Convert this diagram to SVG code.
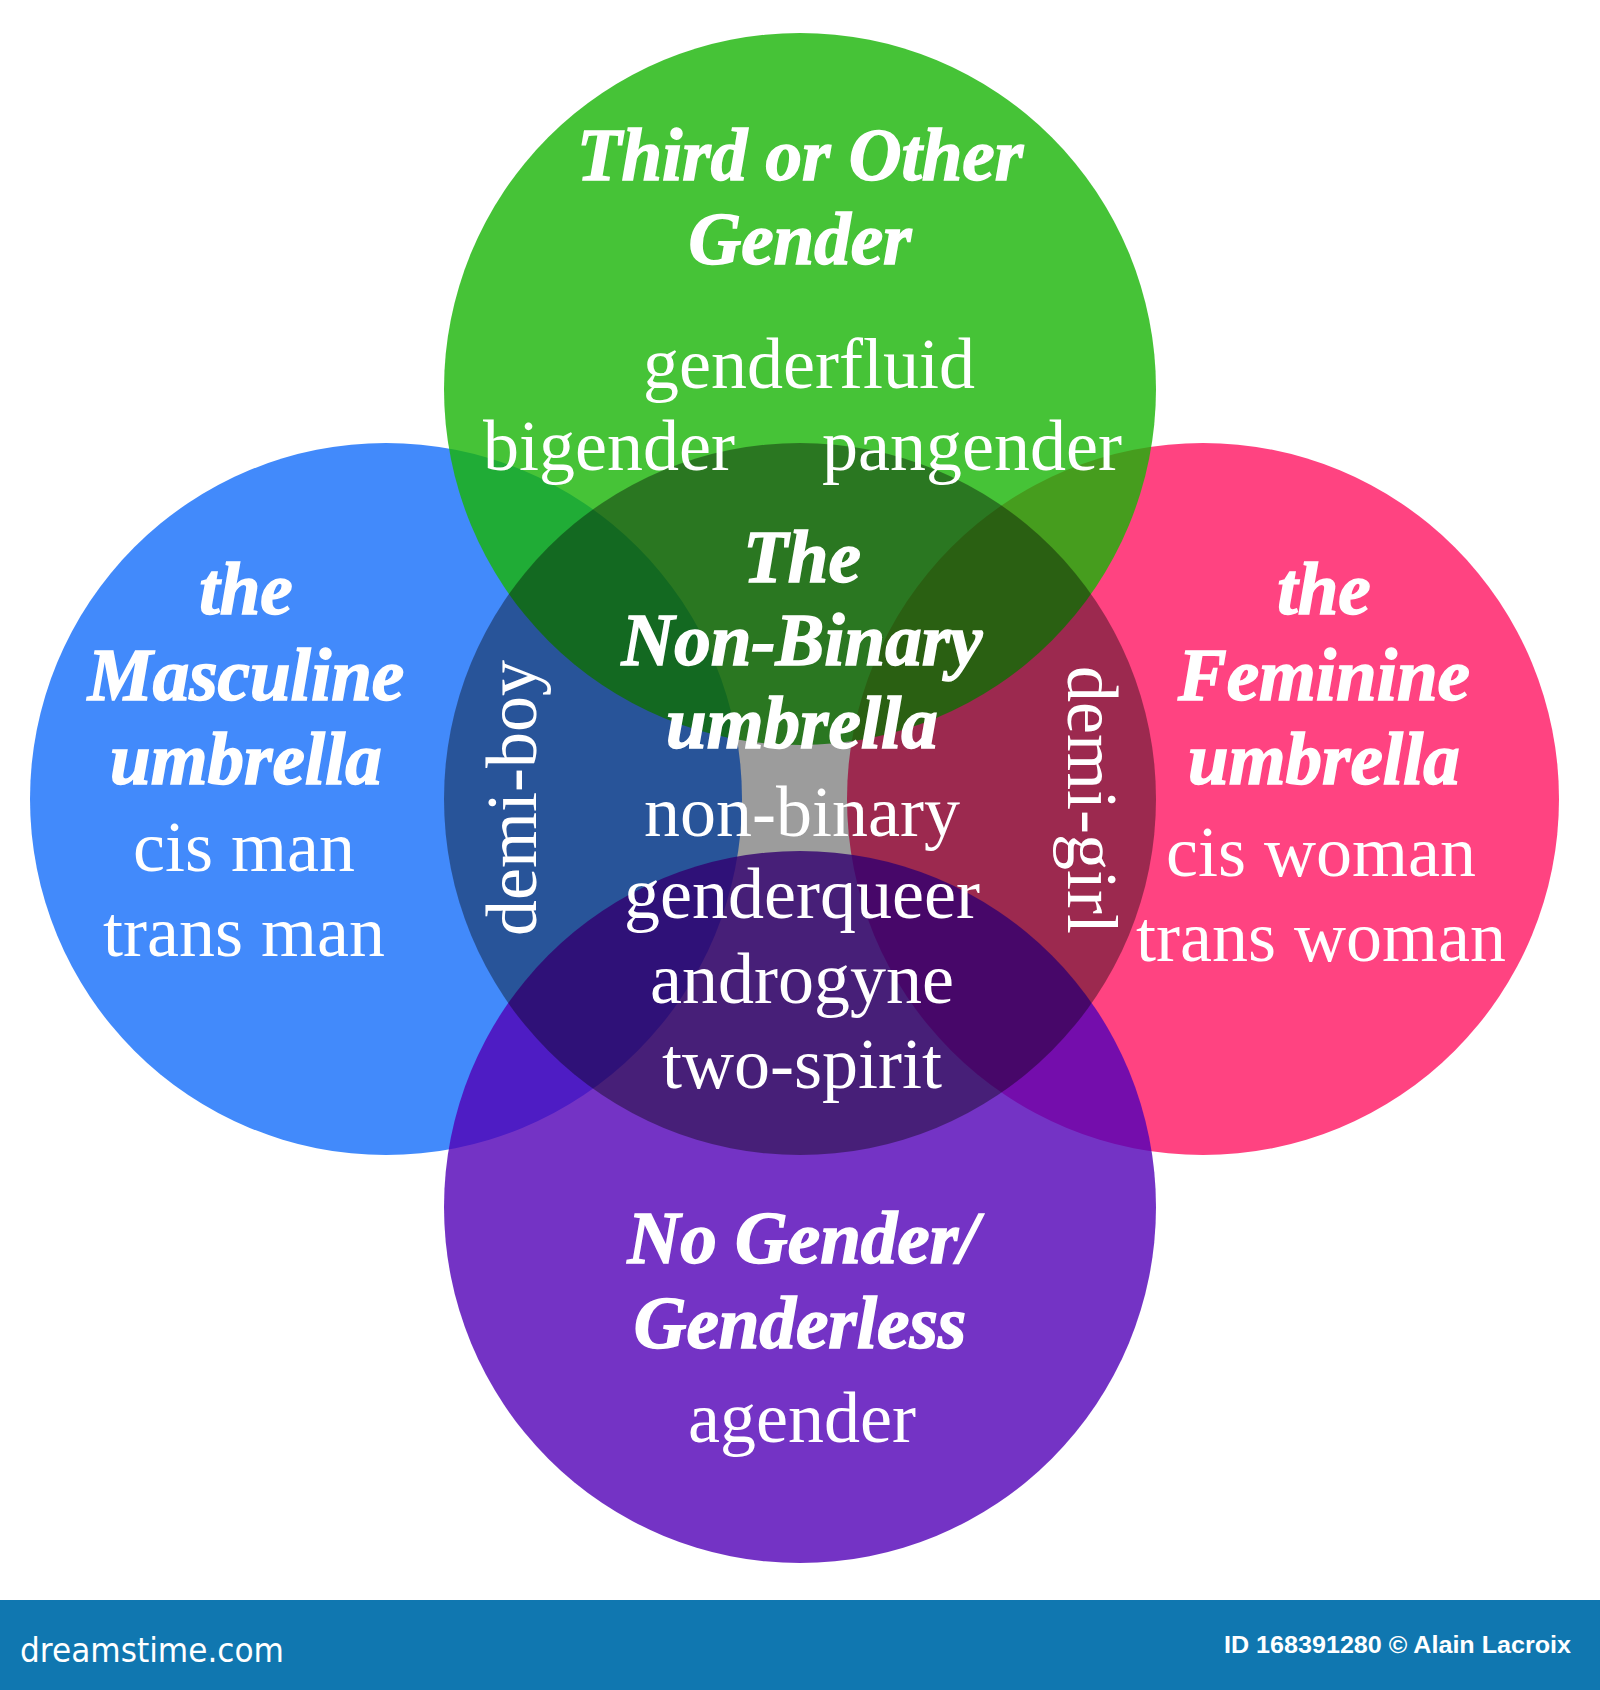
<svg xmlns="http://www.w3.org/2000/svg" width="1600" height="1690" viewBox="0 0 1600 1690">
<style>
.h{font-family:"Liberation Serif",serif;font-weight:bold;font-style:italic;font-size:73px;fill:#ffffff;stroke:#ffffff;stroke-width:1.5px;text-anchor:middle}
.t{font-family:"Liberation Serif",serif;font-size:72px;fill:#ffffff;text-anchor:middle}
</style>
<rect x="0" y="0" width="1600" height="1690" fill="#ffffff"/>
<g id="masculine"><circle cx="386" cy="799" r="356" fill="#428afb"/></g>
<g id="feminine"><circle cx="1203" cy="799" r="356" fill="#ff4381"/></g>
<g id="third-gender"><circle cx="800" cy="389" r="356" fill="#18b405" fill-opacity="0.8"/></g>
<g id="no-gender"><circle cx="800" cy="1207" r="356" fill="#5100b7" fill-opacity="0.8"/></g>
<g id="non-binary"><circle cx="800" cy="799" r="356" fill="#000000" fill-opacity="0.39"/></g>

<g id="third-gender-labels">
<text class="h" x="800" y="180">Third or Other</text>
<text class="h" x="800" y="264">Gender</text>
<text class="t" x="809" y="388">genderfluid</text>
<text class="t" x="609" y="470">bigender</text>
<text class="t" x="972" y="470">pangender</text>
</g>
<g id="non-binary-labels">
<text class="h" x="802" y="582">The</text>
<text class="h" x="802" y="665">Non-Binary</text>
<text class="h" x="802" y="748">umbrella</text>
<text class="t" x="802" y="836">non-binary</text>
<text class="t" x="802" y="918">genderqueer</text>
<text class="t" x="802" y="1003">androgyne</text>
<text class="t" x="802" y="1088">two-spirit</text>
<text class="t" transform="translate(536,798) rotate(-90)" x="0" y="0">demi-boy</text>
<text class="t" transform="translate(1068,800) rotate(90)" x="0" y="0">demi-girl</text>
</g>
<g id="masculine-labels">
<text class="h" x="246" y="614">the</text>
<text class="h" x="246" y="700">Masculine</text>
<text class="h" x="246" y="784">umbrella</text>
<text class="t" x="244" y="871">cis man</text>
<text class="t" x="244" y="956">trans man</text>
</g>
<g id="feminine-labels">
<text class="h" x="1324" y="614">the</text>
<text class="h" x="1324" y="700">Feminine</text>
<text class="h" x="1324" y="784">umbrella</text>
<text class="t" x="1321" y="876">cis woman</text>
<text class="t" x="1321" y="961">trans woman</text>
</g>
<g id="no-gender-labels">
<text class="h" x="803" y="1263">No Gender/</text>
<text class="h" x="800" y="1348">Genderless</text>
<text class="t" x="802" y="1442">agender</text>
</g>

<g id="footer">
<rect x="0" y="1600" width="1600" height="90" fill="#1077b0"/>
<text x="20" y="1662" font-family="DejaVu Sans, sans-serif" font-size="33" fill="#ffffff" textLength="264" lengthAdjust="spacingAndGlyphs">dreamstime.com</text>
<text x="1224" y="1653" font-family="Liberation Sans, Arial, sans-serif" font-weight="bold" font-size="23" fill="#ffffff" textLength="347" lengthAdjust="spacingAndGlyphs">ID 168391280 © Alain Lacroix</text>
</g>
</svg>
